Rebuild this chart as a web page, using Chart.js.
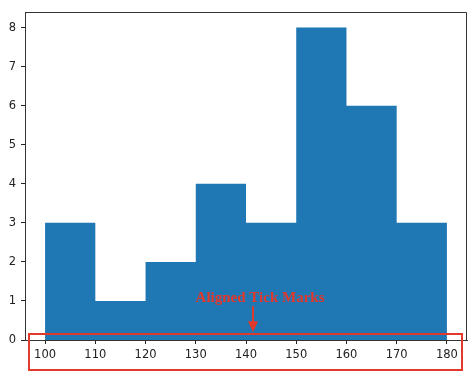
<!DOCTYPE html>
<html>
<head>
<meta charset="utf-8">
<script src="https://cdn.jsdelivr.net/npm/chart.js@4.4.1/dist/chart.umd.min.js"></script>
<style>
html,body{margin:0;padding:0;background:#fff;}
#wrap{width:474px;height:380px;position:relative;}
</style>
</head>
<body>
<div id="wrap"><canvas id="c" width="474" height="380"></canvas></div>
<script>
// Data
const binEdges = [100, 110, 120, 130, 140, 150, 160, 170, 180];
const counts = [3, 1, 2, 4, 3, 8, 6, 3];
const xTicks = [100, 110, 120, 130, 140, 150, 160, 170, 180];
const yTicks = [0, 1, 2, 3, 4, 5, 6, 7, 8];
const annotationText = "Aligned Tick Marks";
const arrowTip = {x: 141.4, y: 0.2};
const textPos = {x: 142.8, y: 1.07};

const stepPoints = binEdges.map((e, i) => ({x: e, y: counts[Math.min(i, counts.length - 1)]}));

const TEXT = '#222222';
const RED = '#e2392c';

const framePlugin = {
  id: 'frame',
  afterDraw(chart) {
    const {ctx, chartArea: a, scales} = chart;
    const xs = scales.x, ys = scales.y;
    ctx.save();
    ctx.strokeStyle = '#333';
    ctx.lineWidth = 1;
    ctx.beginPath();
    ctx.moveTo(a.left, a.top + 0.5);
    ctx.lineTo(a.right - 0.5, a.top + 0.5);
    ctx.lineTo(a.right - 0.5, a.bottom);
    ctx.stroke();
    ctx.fillStyle = RED;
    ctx.font = 'bold 15px "Liberation Serif", "Times New Roman", serif';
    ctx.textAlign = 'center';
    ctx.textBaseline = 'middle';
    ctx.fillText(annotationText, xs.getPixelForValue(textPos.x), ys.getPixelForValue(textPos.y));
    const ax = xs.getPixelForValue(arrowTip.x);
    const ay = ys.getPixelForValue(arrowTip.y);
    ctx.strokeStyle = RED;
    ctx.lineWidth = 2;
    ctx.beginPath();
    ctx.moveTo(ax, ay - 26);
    ctx.lineTo(ax, ay - 9);
    ctx.stroke();
    ctx.beginPath();
    ctx.moveTo(ax, ay);
    ctx.lineTo(ax - 5, ay - 11);
    ctx.lineTo(ax + 5, ay - 11);
    ctx.closePath();
    ctx.fill();
    ctx.lineWidth = 2;
    ctx.strokeRect(29, 334, 433, 36);
    ctx.restore();
  }
};

new Chart(document.getElementById('c'), {
  type: 'line',
  data: {
    datasets: [{
      data: stepPoints,
      stepped: 'before',
      fill: 'origin',
      backgroundColor: '#1f77b4',
      borderColor: 'rgba(0,0,0,0)',
      borderWidth: 0,
      pointRadius: 0,
      tension: 0
    }]
  },
  options: {
    responsive: false,
    animation: false,
    devicePixelRatio: 1,
    layout: {padding: {top: 12, right: 7, left: 0, bottom: 0}},
    plugins: {legend: {display: false}, tooltip: {enabled: false}},
    scales: {
      x: {
        type: 'linear',
        min: 96, max: 184,
        afterBuildTicks: s => { s.ticks = xTicks.map(v => ({value: v})); },
        afterFit: s => { s.height = 40; },
        grid: {display: true, drawOnChartArea: false, drawTicks: true, tickLength: 4, tickColor: '#222', tickWidth: 1},
        border: {display: true, color: '#333', width: 1},
        ticks: {color: TEXT, padding: 4, maxRotation: 0, autoSkip: false,
                font: {family: '"DejaVu Sans"', size: 11.5}}
      },
      y: {
        type: 'linear',
        min: 0, max: 8.4,
        afterBuildTicks: s => { s.ticks = yTicks.map(v => ({value: v})); },
        afterFit: s => { s.width = 25; },
        grid: {display: true, drawOnChartArea: false, drawTicks: true, tickLength: 4, tickColor: '#222', tickWidth: 1},
        border: {display: true, color: '#333', width: 1},
        ticks: {color: TEXT, padding: 5,
                font: {family: '"DejaVu Sans"', size: 11.5}}
      }
    }
  },
  plugins: [framePlugin]
});
</script>
</body>
</html>
